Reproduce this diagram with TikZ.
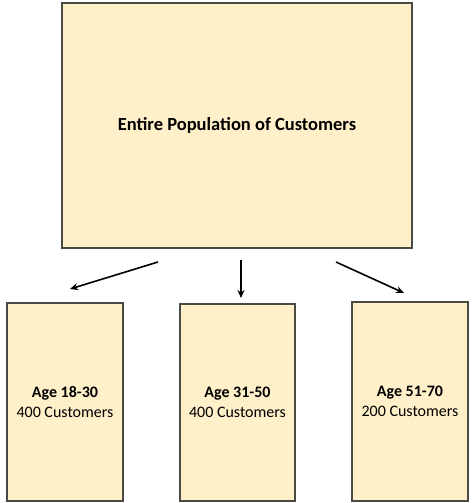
\documentclass[tikz,border=0pt]{standalone}
\usepackage{fontspec}
\setmainfont{Carlito}
\usetikzlibrary{arrows.meta}
\definecolor{boxfill}{HTML}{FFF0CA}
\definecolor{boxdraw}{HTML}{4A4A44}
\begin{document}
\begin{tikzpicture}[x=1pt,y=-1pt,
  box/.style={draw=boxdraw,fill=boxfill,line width=1.5pt,inner sep=0pt,align=center},
  conn/.style={line width=1.6pt,-{Stealth[length=8pt,width=7pt]}}]
\useasboundingbox (0,0) rectangle (474,503);
\node[box,minimum width=350pt,minimum height=245pt,font=\fontsize{18.5}{22}\selectfont\bfseries] (top) at (237,125.5) {Entire Population of Customers};
\node[box,minimum width=116pt,minimum height=198pt,font=\fontsize{16}{20.5}\selectfont] (a) at (65,402) {\textbf{Age 18-30}\\400 Customers};
\node[box,minimum width=115pt,minimum height=197pt,font=\fontsize{16}{20.5}\selectfont] (b) at (237.5,402.5) {\textbf{Age 31-50}\\400 Customers};
\node[box,minimum width=116pt,minimum height=199pt,font=\fontsize{16}{20.5}\selectfont] (c) at (410,401.5) {\textbf{Age 51-70}\\200 Customers};
\coordinate (s1) at (158,262); \coordinate (e1) at (70,289);
\coordinate (s2) at (241,260); \coordinate (e2) at (241,298);
\coordinate (s3) at (336,262); \coordinate (e3) at (404,293);
\draw[conn] (s1) -- (e1);
\draw[conn] (s2) -- (e2);
\draw[conn] (s3) -- (e3);
\end{tikzpicture}
\end{document}
